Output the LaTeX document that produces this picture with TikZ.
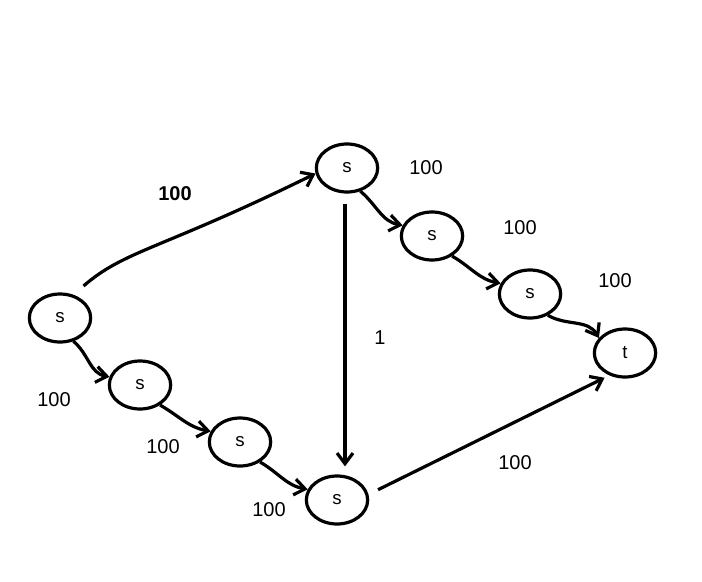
\documentclass[tikz,border=0pt]{standalone}
\usepackage{fontspec}
\setmainfont{Liberation Sans}
\usetikzlibrary{shapes.geometric,arrows.meta}
\begin{document}
\begin{tikzpicture}[x=0.75pt,y=-0.75pt,
  vert/.style={draw,ellipse,line width=2.4pt,minimum width=46pt,minimum height=36pt,inner sep=0pt,font=\fontsize{14}{16}\selectfont},
  edge/.style={line width=2.4pt,-{Straight Barb[length=8pt,width=12pt]}},
  lab/.style={font=\fontsize{15}{18}\selectfont}]
\useasboundingbox (0,0) rectangle (702,581);
\node[vert] (a) at (60,318) {s};
\node[vert] (b) at (140,385) {s};
\node[vert] (c) at (240,442) {s};
\node[vert] (d) at (337,500) {s};
\node[vert] (e) at (347,168) {s};
\node[vert] (f) at (432,236) {s};
\node[vert] (g) at (530,294) {s};
\node[vert] (t) at (625,353) {t};
\draw[edge] (a.-60) to[out=-40,in=170] (b.165);
\draw[edge] (b.-45) to[out=-30,in=170] (c.160);
\draw[edge] (c.-45) to[out=-30,in=170] (d.160);
\draw[edge] (e.-60) to[out=-40,in=170] (f.160);
\draw[edge] (f.-45) to[out=-30,in=170] (g.160);
\draw[edge] (g.-50) to[out=-30,in=120] (t.150);
\draw[edge,shorten <=10pt] (a.60) .. controls (125,250) and (160,250) .. (e.190);
\draw[edge,shorten <=8pt,shorten >=6pt] (e.south -| 345,0) -- (d.north -| 345,0);
\draw[edge,shorten <=8pt,shorten >=4pt] (d.10) -- (t.-125);
\node[lab] at (54,400) {100};
\node[lab] at (163,447) {100};
\node[lab] at (269,510) {100};
\node[lab,font=\bfseries\fontsize{15}{18}\selectfont] at (175,194) {100};
\node[lab] at (426,168) {100};
\node[lab] at (520,228) {100};
\node[lab] at (615,281) {100};
\node[lab] at (380,338) {1};
\node[lab] at (515,463) {100};
\end{tikzpicture}
\end{document}
